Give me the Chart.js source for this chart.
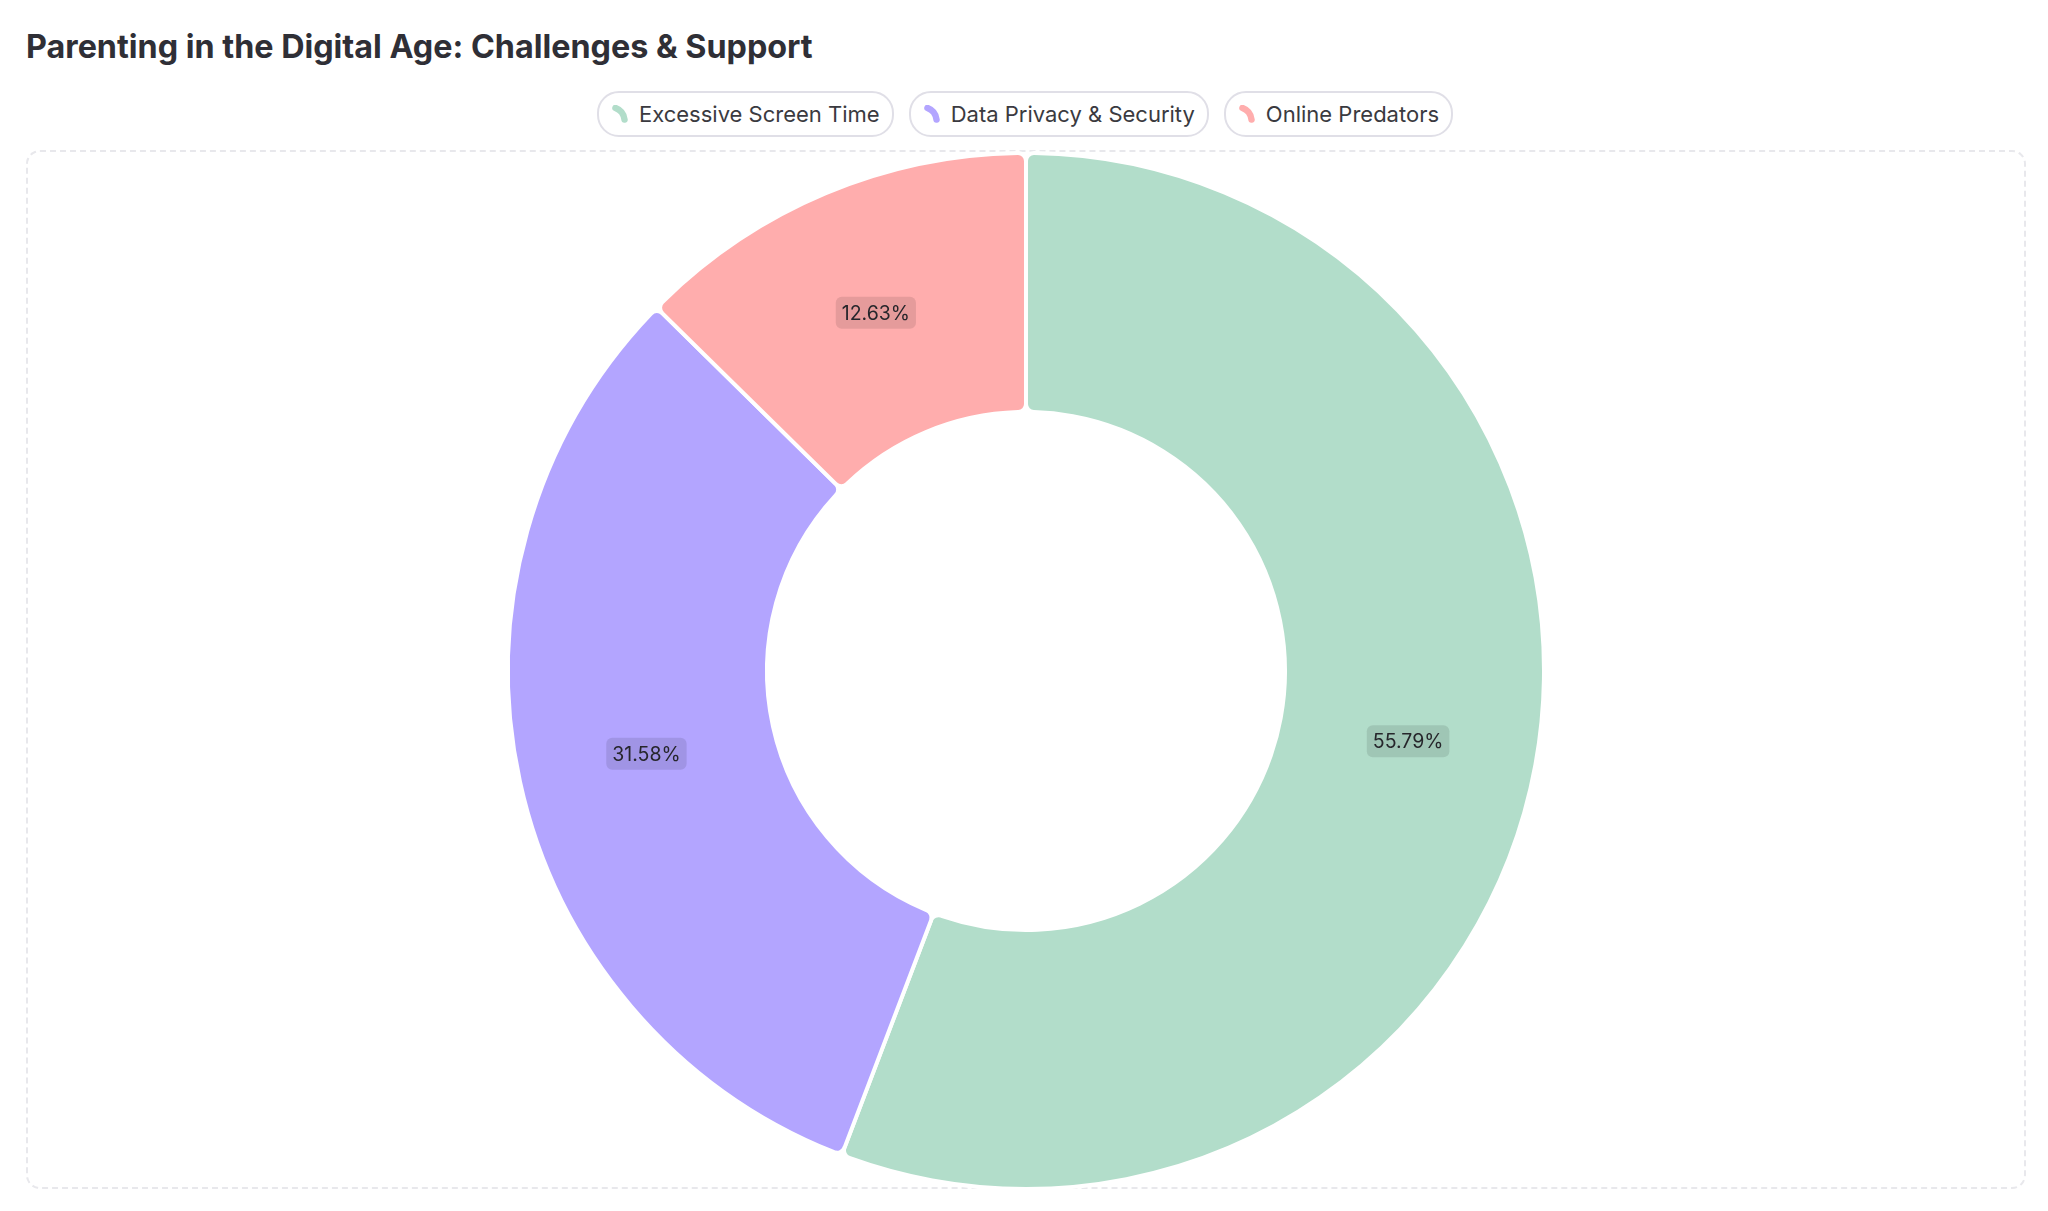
<!DOCTYPE html>
<html>
<head>
<meta charset="utf-8">
<script src="https://cdn.jsdelivr.net/npm/chart.js@4.4.1/dist/chart.umd.min.js"></script>
<style>
  html, body { margin: 0; padding: 0; background: #fff; font-family: Inter, "Noto Sans", sans-serif; }
  .page { width: 2048px; height: 1211px; position: relative; }
  h1 { position: absolute; left: 26px; top: 27px; margin: 0; font-size: 32.3px; line-height: 40px; font-weight: 700; color: #2f2f36; letter-spacing: 0; }
  #legend { position: absolute; left: 26px; width: 1998px; top: 91px; height: 44px; display: flex; justify-content: center; gap: 15px; }
  .item { display: flex; align-items: center; height: 42px; padding: 0 12px 0 13px; border: 2px solid #e0dfe7; border-radius: 22px; font-size: 22px; letter-spacing: 0; color: #3a3a40; cursor: pointer; }
  .item svg { margin-right: 9px; }
  .box { position: absolute; left: 26px; top: 150px; width: 1996px; height: 1035px; border: 2px dashed #e8e8ec; border-radius: 14px; }
  .box canvas { position: absolute; left: 0; top: -1px; }
</style>
</head>
<body>
<div class="page">
  <h1>Parenting in the Digital Age: Challenges &amp; Support</h1>
  <div id="legend"></div>
  <div class="box"><canvas id="chart"></canvas></div>
</div>
<script>
  const categories = ['Excessive Screen Time', 'Data Privacy & Security', 'Online Predators'];
  const shares = [55.79, 31.58, 12.63];
  const colors = ['#b2ddca', '#b3a5ff', '#ffadad'];

  // labels on each slice, with a soft dark box behind
  const sliceLabels = {
    id: 'sliceLabels',
    afterDatasetsDraw(chart) {
      const ctx = chart.ctx;
      const meta = chart.getDatasetMeta(0);
      ctx.save();
      ctx.font = '19.5px Inter, sans-serif';
      ctx.textAlign = 'center';
      ctx.textBaseline = 'middle';
      meta.data.forEach((arc, i) => {
        if (!chart.getDataVisibility(i)) return;
        const p = arc.tooltipPosition();
        const txt = shares[i].toFixed(2) + '%';
        const w = ctx.measureText(txt).width + 12;
        const h = 32;
        ctx.fillStyle = 'rgba(0,0,0,0.1)';
        ctx.beginPath();
        ctx.roundRect(p.x - w / 2, p.y - h / 2, w, h, 6);
        ctx.fill();
        ctx.fillStyle = '#26262b';
        ctx.fillText(txt, p.x, p.y + 1);
      });
      ctx.restore();
    }
  };

  const canvas = document.getElementById('chart');
  canvas.style.width = '1996px';
  canvas.style.height = '1040px';

  const chart = new Chart(canvas.getContext('2d'), {
    type: 'doughnut',
    data: {
      labels: categories,
      datasets: [{
        data: shares,
        backgroundColor: colors,
        borderColor: '#ffffff',
        borderWidth: 4,
        borderRadius: 8,
        hoverOffset: 0
      }]
    },
    options: {
      responsive: false,
      maintainAspectRatio: false,
      animation: false,
      cutout: '50%',
      layout: { padding: 0 },
      plugins: {
        legend: { display: false },
        tooltip: { enabled: true }
      }
    },
    plugins: [sliceLabels]
  });

  // html legend
  const legend = document.getElementById('legend');
  categories.forEach((name, i) => {
    const el = document.createElement('div');
    el.className = 'item';
    el.innerHTML =
      '<svg width="18" height="18" viewBox="0 0 18 18">' +
      '<path d="M3.5 3 A 14 14 0 0 1 12.5 14.5" fill="none" stroke="' + colors[i] +
      '" stroke-width="6.5" stroke-linecap="round"/></svg>';
    const span = document.createElement('span');
    span.textContent = name;
    el.appendChild(span);
    el.onclick = function () {
      chart.toggleDataVisibility(i);
      el.style.opacity = chart.getDataVisibility(i) ? 1 : 0.4;
      chart.update();
    };
    legend.appendChild(el);
  });
</script>
</body>
</html>
